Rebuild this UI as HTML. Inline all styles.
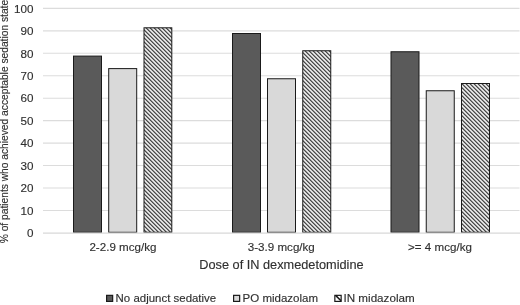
<!DOCTYPE html>
<html><head><meta charset="utf-8"><title>chart</title>
<style>
html,body{margin:0;padding:0;background:#fff;}
body{width:520px;height:305px;overflow:hidden;}
svg{display:block;font-family:"Liberation Sans",Arial,Helvetica,sans-serif;}
</style></head><body>
<svg width="520" height="305" viewBox="0 0 520 305">
<defs>
<pattern id="h" width="4" height="4" patternUnits="userSpaceOnUse" patternTransform="translate(2.3,0)">
<rect width="4" height="4" fill="#fff"/>
<path d="M-1,-1 L5,5 M-1,3 L1,5 M3,-1 L5,1" stroke="#0c0c0c" stroke-width="1.06" fill="none"/>
</pattern>
</defs>
<rect width="520" height="305" fill="#fff"/>

<g stroke="#dcdcdc" stroke-width="1.1">
<line x1="43" y1="210.45" x2="519.5" y2="210.45"/>
<line x1="43" y1="188.00" x2="519.5" y2="188.00"/>
<line x1="43" y1="165.55" x2="519.5" y2="165.55"/>
<line x1="43" y1="143.10" x2="519.5" y2="143.10"/>
<line x1="43" y1="120.65" x2="519.5" y2="120.65"/>
<line x1="43" y1="98.20" x2="519.5" y2="98.20"/>
<line x1="43" y1="75.75" x2="519.5" y2="75.75"/>
<line x1="43" y1="53.30" x2="519.5" y2="53.30"/>
<line x1="43" y1="30.85" x2="519.5" y2="30.85"/>
<line x1="43" y1="8.40" x2="519.5" y2="8.40"/>
</g>
<g fill="#303030" stroke="#303030" stroke-width="0.14">
<text transform="translate(33.4,237.1) scale(1.05,1)" font-size="11.1px" text-anchor="end">0</text>
<text transform="translate(33.4,214.65) scale(1.05,1)" font-size="11.1px" text-anchor="end">10</text>
<text transform="translate(33.4,192.2) scale(1.05,1)" font-size="11.1px" text-anchor="end">20</text>
<text transform="translate(33.4,169.75) scale(1.05,1)" font-size="11.1px" text-anchor="end">30</text>
<text transform="translate(33.4,147.3) scale(1.05,1)" font-size="11.1px" text-anchor="end">40</text>
<text transform="translate(33.4,124.85) scale(1.05,1)" font-size="11.1px" text-anchor="end">50</text>
<text transform="translate(33.4,102.4) scale(1.05,1)" font-size="11.1px" text-anchor="end">60</text>
<text transform="translate(33.4,79.95) scale(1.05,1)" font-size="11.1px" text-anchor="end">70</text>
<text transform="translate(33.4,57.5) scale(1.05,1)" font-size="11.1px" text-anchor="end">80</text>
<text transform="translate(33.4,35.05) scale(1.05,1)" font-size="11.1px" text-anchor="end">90</text>
<text transform="translate(33.4,12.6) scale(1.05,1)" font-size="11.1px" text-anchor="end">100</text>
</g>
<g stroke="#1a1a1a" stroke-width="1">
<rect x="73.50" y="56.10" width="28.00" height="176.20" fill="#5a5a5a"/>
<rect x="108.70" y="68.60" width="28.00" height="163.70" fill="#d9d9d9"/>
<rect x="144.00" y="27.80" width="27.80" height="204.50" fill="url(#h)"/>
<rect x="232.50" y="33.50" width="28.00" height="198.80" fill="#5a5a5a"/>
<rect x="267.50" y="78.75" width="28.00" height="153.55" fill="#d9d9d9"/>
<rect x="302.75" y="50.75" width="28.00" height="181.55" fill="url(#h)"/>
<rect x="391.00" y="51.75" width="28.00" height="180.55" fill="#5a5a5a"/>
<rect x="426.25" y="90.75" width="28.00" height="141.55" fill="#d9d9d9"/>
<rect x="461.50" y="83.50" width="28.00" height="148.80" fill="url(#h)"/>
</g>
<line x1="43" y1="233.15" x2="520" y2="233.15" stroke="#d8d8d8" stroke-width="1.2"/>
<g fill="#303030" stroke="#303030" stroke-width="0.14">
<text transform="translate(122.9,251.3) scale(1.045,1)" font-size="11.1px" text-anchor="middle">2-2.9 mcg/kg</text>
<text transform="translate(281.3,251.3) scale(1.045,1)" font-size="11.1px" text-anchor="middle">3-3.9 mcg/kg</text>
<text transform="translate(440.0,251.3) scale(1.045,1)" font-size="11.1px" text-anchor="middle">&gt;= 4 mcg/kg</text>
<text transform="translate(281.45,269) scale(1.063,1)" font-size="12.0px" text-anchor="middle">Dose of IN dexmedetomidine</text>
<text transform="translate(8.2,243.3) rotate(-90) scale(1,1.025)" font-size="10.24px">% of patients who achieved acceptable sedation state</text>
</g>
<g stroke="#1a1a1a" stroke-width="1.2">
<rect x="106.6" y="295.35" width="6.05" height="6.05" fill="#5a5a5a"/>
<rect x="233.6" y="295.35" width="6.05" height="6.05" fill="#d9d9d9"/>
<rect x="334.85" y="295.35" width="6.3" height="6.05" fill="#fff"/>
<path d="M335.6,295.4 L341.0,300.8" stroke-width="1.5" fill="none"/>
</g>
<g fill="#303030" stroke="#303030" stroke-width="0.14">
<text transform="translate(115.6,302) scale(1.037,1)" font-size="11.05px" text-anchor="start">No adjunct sedative</text>
<text transform="translate(242.6,302) scale(1.042,1)" font-size="11.05px" text-anchor="start">PO midazolam</text>
<text transform="translate(343.5,302) scale(1.054,1)" font-size="11.05px" text-anchor="start">IN midazolam</text>
</g>
</svg></body></html>
